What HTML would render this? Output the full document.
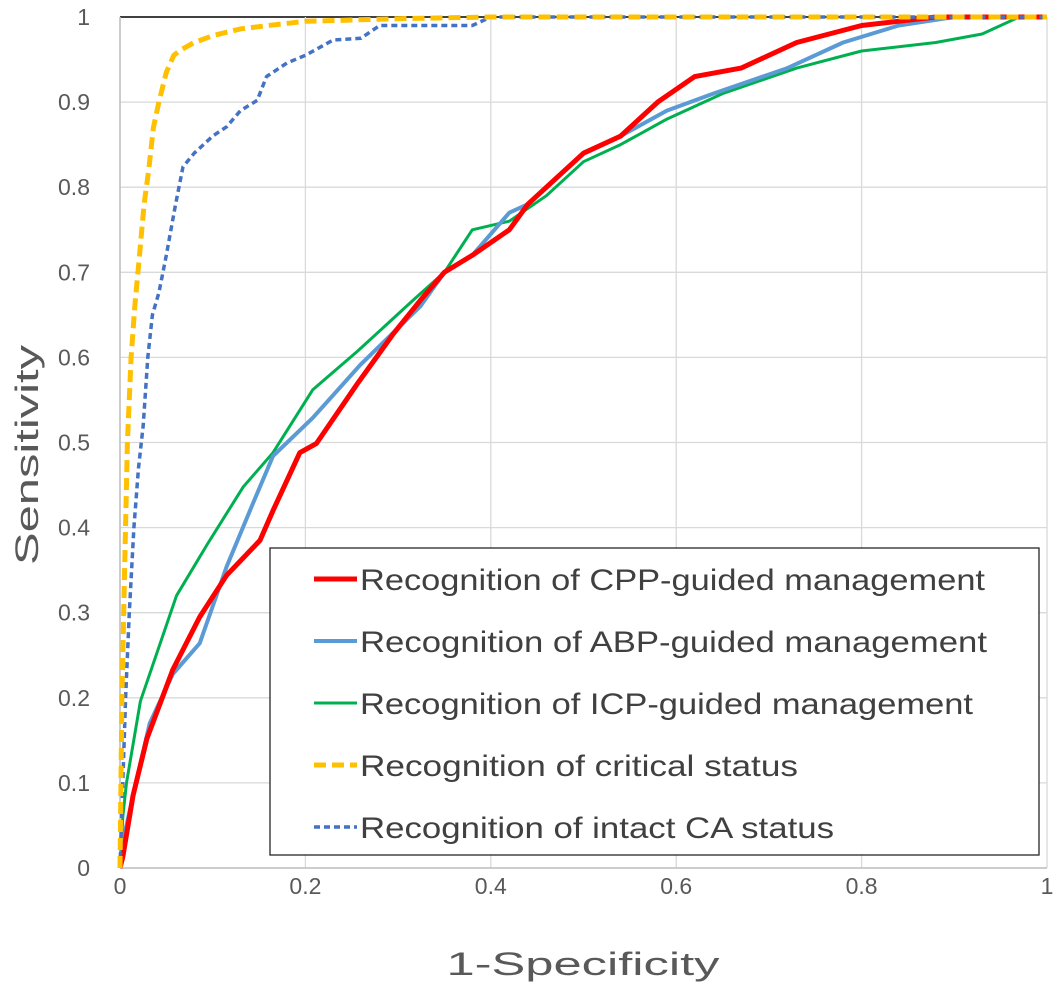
<!DOCTYPE html>
<html><head><meta charset="utf-8"><style>
body{margin:0;background:#fff;}
svg{display:block;font-family:"Liberation Sans",Arial,sans-serif;}
</style></head><body>
<svg id="chart" width="1062" height="993" viewBox="0 0 1062 993" xmlns="http://www.w3.org/2000/svg">
<g id="grid"></g>
<g id="ticks"></g>
<g id="series"></g>
<text x="0" y="0" transform="translate(38,455) rotate(-90)" text-anchor="middle" font-size="32" fill="#595959" textLength="220" lengthAdjust="spacingAndGlyphs">Sensitivity</text>
<text x="583" y="975" text-anchor="middle" font-size="32" fill="#595959" textLength="273" lengthAdjust="spacingAndGlyphs">1-Specificity</text>
<g id="legend"></g>
</svg>
<script>
const ticks = [0,0.1,0.2,0.3,0.4,0.5,0.6,0.7,0.8,0.9,1];
const xTickLabels = ["0","0.2","0.4","0.6","0.8","1"];
const xTickValues = [0,0.2,0.4,0.6,0.8,1];
const seriesNames = ["Recognition of CPP-guided management","Recognition of ABP-guided management","Recognition of ICP-guided management","Recognition of critical status","Recognition of intact CA status"];
const legendWidths = [625,627,613,438,474];
const cppX = [0,0.003,0.014,0.029,0.057,0.086,0.115,0.151,0.165,0.194,0.212,0.256,0.295,0.324,0.35,0.38,0.42,0.44,0.46,0.5,0.54,0.58,0.62,0.67,0.73,0.8,0.88,1];
const cppY = [0,0.013,0.085,0.152,0.233,0.295,0.344,0.385,0.42,0.488,0.499,0.569,0.628,0.667,0.7,0.72,0.75,0.78,0.80,0.84,0.86,0.90,0.93,0.94,0.97,0.99,1,1];
const abpX = [0,0.005,0.014,0.032,0.057,0.086,0.115,0.144,0.165,0.208,0.259,0.324,0.35,0.38,0.42,0.44,0.46,0.5,0.54,0.59,0.64,0.72,0.78,0.84,0.9,1];
const abpY = [0,0.04,0.085,0.17,0.228,0.264,0.354,0.43,0.484,0.529,0.591,0.66,0.7,0.72,0.77,0.78,0.80,0.84,0.86,0.89,0.91,0.94,0.97,0.99,1,1];
const icpX = [0,0.003,0.007,0.022,0.061,0.094,0.133,0.165,0.208,0.256,0.316,0.35,0.38,0.42,0.46,0.5,0.54,0.59,0.65,0.73,0.8,0.88,0.93,0.97,1];
const icpY = [0,0.06,0.10,0.196,0.32,0.38,0.448,0.488,0.562,0.607,0.667,0.7,0.75,0.76,0.79,0.83,0.85,0.88,0.91,0.94,0.96,0.97,0.98,1,1];
const critX = [0,0.002,0.005,0.008,0.012,0.016,0.021,0.026,0.031,0.036,0.042,0.05,0.058,0.065,0.08,0.1,0.13,0.16,0.2,0.3,0.4,1];
const critY = [0,0.2,0.35,0.5,0.6,0.66,0.72,0.78,0.82,0.87,0.90,0.935,0.955,0.961,0.97,0.978,0.986,0.99,0.995,0.998,1,1];
const intactX = [0,0.003,0.006,0.01,0.015,0.02,0.025,0.03,0.035,0.042,0.05,0.06,0.068,0.08,0.1,0.115,0.13,0.148,0.158,0.18,0.2,0.23,0.26,0.28,0.38,0.4,1];
const intactY = [0,0.1,0.2,0.3,0.4,0.47,0.52,0.6,0.65,0.676,0.72,0.78,0.824,0.84,0.86,0.871,0.89,0.902,0.93,0.946,0.955,0.973,0.975,0.99,0.99,1,1];

const X0=120,X1=1047,Y0=868,Y1=17;
const sx=v=>X0+v*(X1-X0);
const sy=v=>Y0-v*(Y0-Y1);
const NS="http://www.w3.org/2000/svg";
function mk(tag,attrs,parent){const e=document.createElementNS(NS,tag);for(const k in attrs)e.setAttribute(k,attrs[k]);parent.appendChild(e);return e;}
const grid=document.getElementById('grid'),tk=document.getElementById('ticks');
ticks.forEach(t=>{
  const l=mk('line',{x1:X0,x2:X1,y1:sy(t),y2:sy(t),stroke:t===1?'#404040':'#d9d9d9','stroke-width':t===1?2:1.3},grid);
  
  
  const tx=mk('text',{x:90,y:sy(t)+8,'text-anchor':'end','font-size':23,fill:'#595959'},tk);
  tx.textContent=String(t);
  
  
});
xTickValues.forEach((t,i)=>{
  const l=mk('line',{x1:sx(t),x2:sx(t),y1:Y1,y2:Y0,stroke:'#d9d9d9','stroke-width':1.3},grid);
  
  
  const tx=mk('text',{x:sx(t),y:894,'text-anchor':'middle','font-size':23,fill:'#595959'},tk);
  tx.textContent=xTickLabels[i];
  
  
});
const ax=mk('line',{x1:X0,x2:X0,y1:Y1,y2:Y0,stroke:'#bfbfbf','stroke-width':1.5},grid);


const ax2=mk('line',{x1:X0,x2:X1,y1:Y0,y2:Y0,stroke:'#bfbfbf','stroke-width':1.5},grid);



const styles=[
 {c:'#ff0000',w:5,d:''},
 {c:'#5b9bd5',w:4,d:''},
 {c:'#00b050',w:3,d:''},
 {c:'#ffc000',w:5,d:'12,6'},
 {c:'#4472c4',w:3.5,d:'6,4'}
];
const data=[[cppX,cppY],[abpX,abpY],[icpX,icpY],[critX,critY],[intactX,intactY]];
const sg=document.getElementById('series');
const order=[2,1,0,4,3];
const names=['cpp-curve','abp-curve','icp-curve','critical-status-curve','intact-ca-curve'];
order.forEach(i=>{
  const [xs,ys]=data[i];
  const d=xs.map((x,j)=>(j?'L':'M')+sx(x).toFixed(1)+','+sy(ys[j]).toFixed(1)).join(' ');
  const p=mk('path',{d:d,fill:'none',stroke:styles[i].c,'stroke-width':styles[i].w,'stroke-dasharray':styles[i].d,'stroke-linejoin':'round'},sg);
  
  
});
const lg=document.getElementById('legend');
const box=mk('rect',{x:270,y:548,width:769,height:307,fill:'#fff',stroke:'#262626','stroke-width':1.3},lg);


seriesNames.forEach((n,i)=>{
  const y=579+i*62;
  const l=mk('line',{x1:314,x2:357,y1:y,y2:y,stroke:styles[i].c,'stroke-width':styles[i].w,'stroke-dasharray':styles[i].d},lg);
  
  
  const t=mk('text',{x:360,y:y+11,'font-size':30,fill:'#404040',textLength:legendWidths[i],lengthAdjust:'spacingAndGlyphs'},lg);
  t.textContent=n;
  
  
});
</script>
</body></html>
